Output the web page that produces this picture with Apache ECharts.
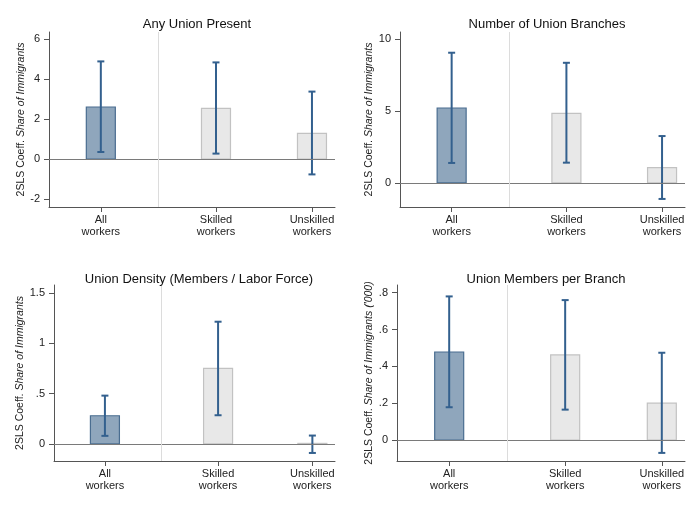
<!DOCTYPE html>
<html><head><meta charset="utf-8">
<script src="https://cdn.jsdelivr.net/npm/echarts@6/dist/echarts.min.js"></script>
<style>html,body{margin:0;padding:0;background:#fff}#c{width:696px;height:506px}</style>
</head><body><div id="c"></div>
<script>
// ---- data ----
const categories = ['All\nworkers', 'Skilled\nworkers', 'Unskilled\nworkers'];
const xPositions = [1, 2.2, 3.2];
const separatorX = 1.6;

const titles = ['Any Union Present', 'Number of Union Branches', 'Union Density (Members / Labor Force)', 'Union Members per Branch'];

const anyCoef = [2.60, 2.53, 1.28];
const anyLo   = [0.35, 0.27, -0.77];
const anyHi   = [4.88, 4.83, 3.37];

const branchCoef = [5.21, 4.84, 1.06];
const branchLo   = [1.39, 1.41, -1.11];
const branchHi   = [9.05, 8.35, 3.26];

const densityCoef = [0.28, 0.75, 0.005];
const densityLo   = [0.08, 0.285, -0.09];
const densityHi   = [0.48, 1.215, 0.083];

const membersCoef = [0.478, 0.462, 0.20];
const membersLo   = [0.178, 0.165, -0.07];
const membersHi   = [0.78, 0.76, 0.474];

const ticksAny = [-2, 0, 2, 4, 6];
const labelsAny = ['-2', '0', '2', '4', '6'];
const ticksBranch = [0, 5, 10];
const labelsBranch = ['0', '5', '10'];
const ticksDensity = [0, 0.5, 1, 1.5];
const labelsDensity = ['0', '.5', '1', '1.5'];
const ticksMembers = [0, 0.2, 0.4, 0.6, 0.8];
const labelsMembers = ['0', '.2', '.4', '.6', '.8'];

// ---- layout / style ----
const FONT = 'Liberation Sans, Arial, Helvetica, sans-serif';
const panels = [
  {coef: anyCoef, lo: anyLo, hi: anyHi, ticks: ticksAny, labels: labelsAny, ymin: -2.4, ymax: 6.35,
   grid: {left: 49, right: 361, top: 32, bottom: 299}, nameGap: 22, unit: '', titleX: 192, titleY: 13},
  {coef: branchCoef, lo: branchLo, hi: branchHi, ticks: ticksBranch, labels: labelsBranch, ymin: -1.67, ymax: 10.49,
   grid: {left: 400, right: 11, top: 32, bottom: 299}, nameGap: 25, unit: '', titleX: 542, titleY: 13},
  {coef: densityCoef, lo: densityLo, hi: densityHi, ticks: ticksDensity, labels: labelsDensity, ymin: -0.17, ymax: 1.58,
   grid: {left: 54, right: 361, top: 285, bottom: 45}, nameGap: 27, unit: '', titleX: 194, titleY: 268},
  {coef: membersCoef, lo: membersLo, hi: membersHi, ticks: ticksMembers, labels: labelsMembers, ymin: -0.114, ymax: 0.842,
   grid: {left: 397, right: 11, top: 285, bottom: 45}, nameGap: 22, unit: " ('000)", titleX: 541, titleY: 268}
];

const AXIS_COLOR = '#555';
const DARK_FILL = '#8fa6bc', DARK_STROKE = '#4a6d90';
const LIGHT_FILL = '#e8e8e8', LIGHT_STROKE = '#c2c2c2';
const ERR_COLOR = '#33608e';

const option = {
  animation: false,
  backgroundColor: '#fff',
  title: [], grid: [], xAxis: [], yAxis: [], series: []
};

panels.forEach((p, i) => {
  option.title.push({text: titles[i], left: p.titleX, top: p.titleY, textAlign: 'center',
    textStyle: {fontFamily: FONT, fontSize: 13, fontWeight: 'normal', color: '#111'}});
  option.grid.push(Object.assign({containLabel: false}, p.grid));
  option.xAxis.push({
    type: 'value', gridIndex: i, min: 0.46, max: 3.44,
    axisLine: {show: true, onZero: false, lineStyle: {color: AXIS_COLOR, width: 1}},
    axisTick: {show: true, customValues: xPositions, length: 5, lineStyle: {color: AXIS_COLOR}},
    axisLabel: {show: true, customValues: xPositions, margin: 7, fontFamily: FONT, fontSize: 11, color: '#222', lineHeight: 12,
      formatter: v => { const k = xPositions.findIndex(x => Math.abs(x - v) < 1e-6); return k >= 0 ? categories[k] : ''; }},
    splitLine: {show: false}
  });
  option.yAxis.push({
    type: 'value', gridIndex: i, min: p.ymin, max: p.ymax,
    name: '{a|2SLS Coeff. }{b|Share of Immigrants' + p.unit + '}',
    nameLocation: 'middle', nameGap: p.nameGap, nameRotate: 90,
    nameTextStyle: {rich: {
      a: {fontFamily: FONT, fontSize: 10.5, color: '#222'},
      b: {fontFamily: FONT, fontSize: 10.5, color: '#222', fontStyle: 'italic'}
    }},
    axisLine: {show: true, lineStyle: {color: AXIS_COLOR, width: 1}},
    axisTick: {show: true, customValues: p.ticks, length: 5, lineStyle: {color: AXIS_COLOR}},
    axisLabel: {show: true, customValues: p.ticks, margin: 9, fontFamily: FONT, fontSize: 11, color: '#222',
      formatter: v => { const k = p.ticks.findIndex(t => Math.abs(t - v) < 1e-9); return k >= 0 ? p.labels[k] : ''; }},
    splitLine: {show: false}
  });
  const data = xPositions.map((x, k) => [x, p.coef[k], p.lo[k], p.hi[k], k]);
  // reference lines
  option.series.push({
    type: 'line', xAxisIndex: i, yAxisIndex: i, data: [], z: 1, silent: true,
    markLine: {silent: true, symbol: 'none', label: {show: false}, animation: false,
      data: [
        {yAxis: 0, lineStyle: {color: '#7a7a7a', width: 1, type: 'solid'}},
        {xAxis: separatorX, lineStyle: {color: '#dcdcdc', width: 1, type: 'solid'}}
      ]}
  });
  // bars
  option.series.push({
    type: 'custom', xAxisIndex: i, yAxisIndex: i, data: data, z: 3, silent: true,
    encode: {x: 0, y: 1},
    renderItem: (params, api) => {
      const x = api.value(0), y = api.value(1), k = api.value(4);
      const a = api.coord([x, 0]), b = api.coord([x, y]);
      const w = 29;
      return {type: 'rect', shape: {x: a[0] - w / 2, y: Math.min(a[1], b[1]), width: w, height: Math.max(Math.abs(b[1] - a[1]), 0.5)},
        style: {fill: k === 0 ? DARK_FILL : LIGHT_FILL, stroke: k === 0 ? DARK_STROKE : LIGHT_STROKE, lineWidth: 1.2}};
    }
  });
  // error bars
  option.series.push({
    type: 'custom', xAxisIndex: i, yAxisIndex: i, data: data, z: 4, silent: true,
    encode: {x: 0, y: [2, 3]},
    renderItem: (params, api) => {
      const x = api.value(0);
      const lo = api.coord([x, api.value(2)]), hi = api.coord([x, api.value(3)]);
      const c = 3.5;
      const st = {stroke: ERR_COLOR, lineWidth: 2};
      return {type: 'group', children: [
        {type: 'line', shape: {x1: lo[0], y1: lo[1], x2: hi[0], y2: hi[1]}, style: st},
        {type: 'line', shape: {x1: lo[0] - c, y1: lo[1], x2: lo[0] + c, y2: lo[1]}, style: st},
        {type: 'line', shape: {x1: hi[0] - c, y1: hi[1], x2: hi[0] + c, y2: hi[1]}, style: st}
      ]};
    }
  });
});

const chart = echarts.init(document.getElementById('c'), null, {renderer: 'canvas'});
chart.setOption(option);
</script>
</body></html>
